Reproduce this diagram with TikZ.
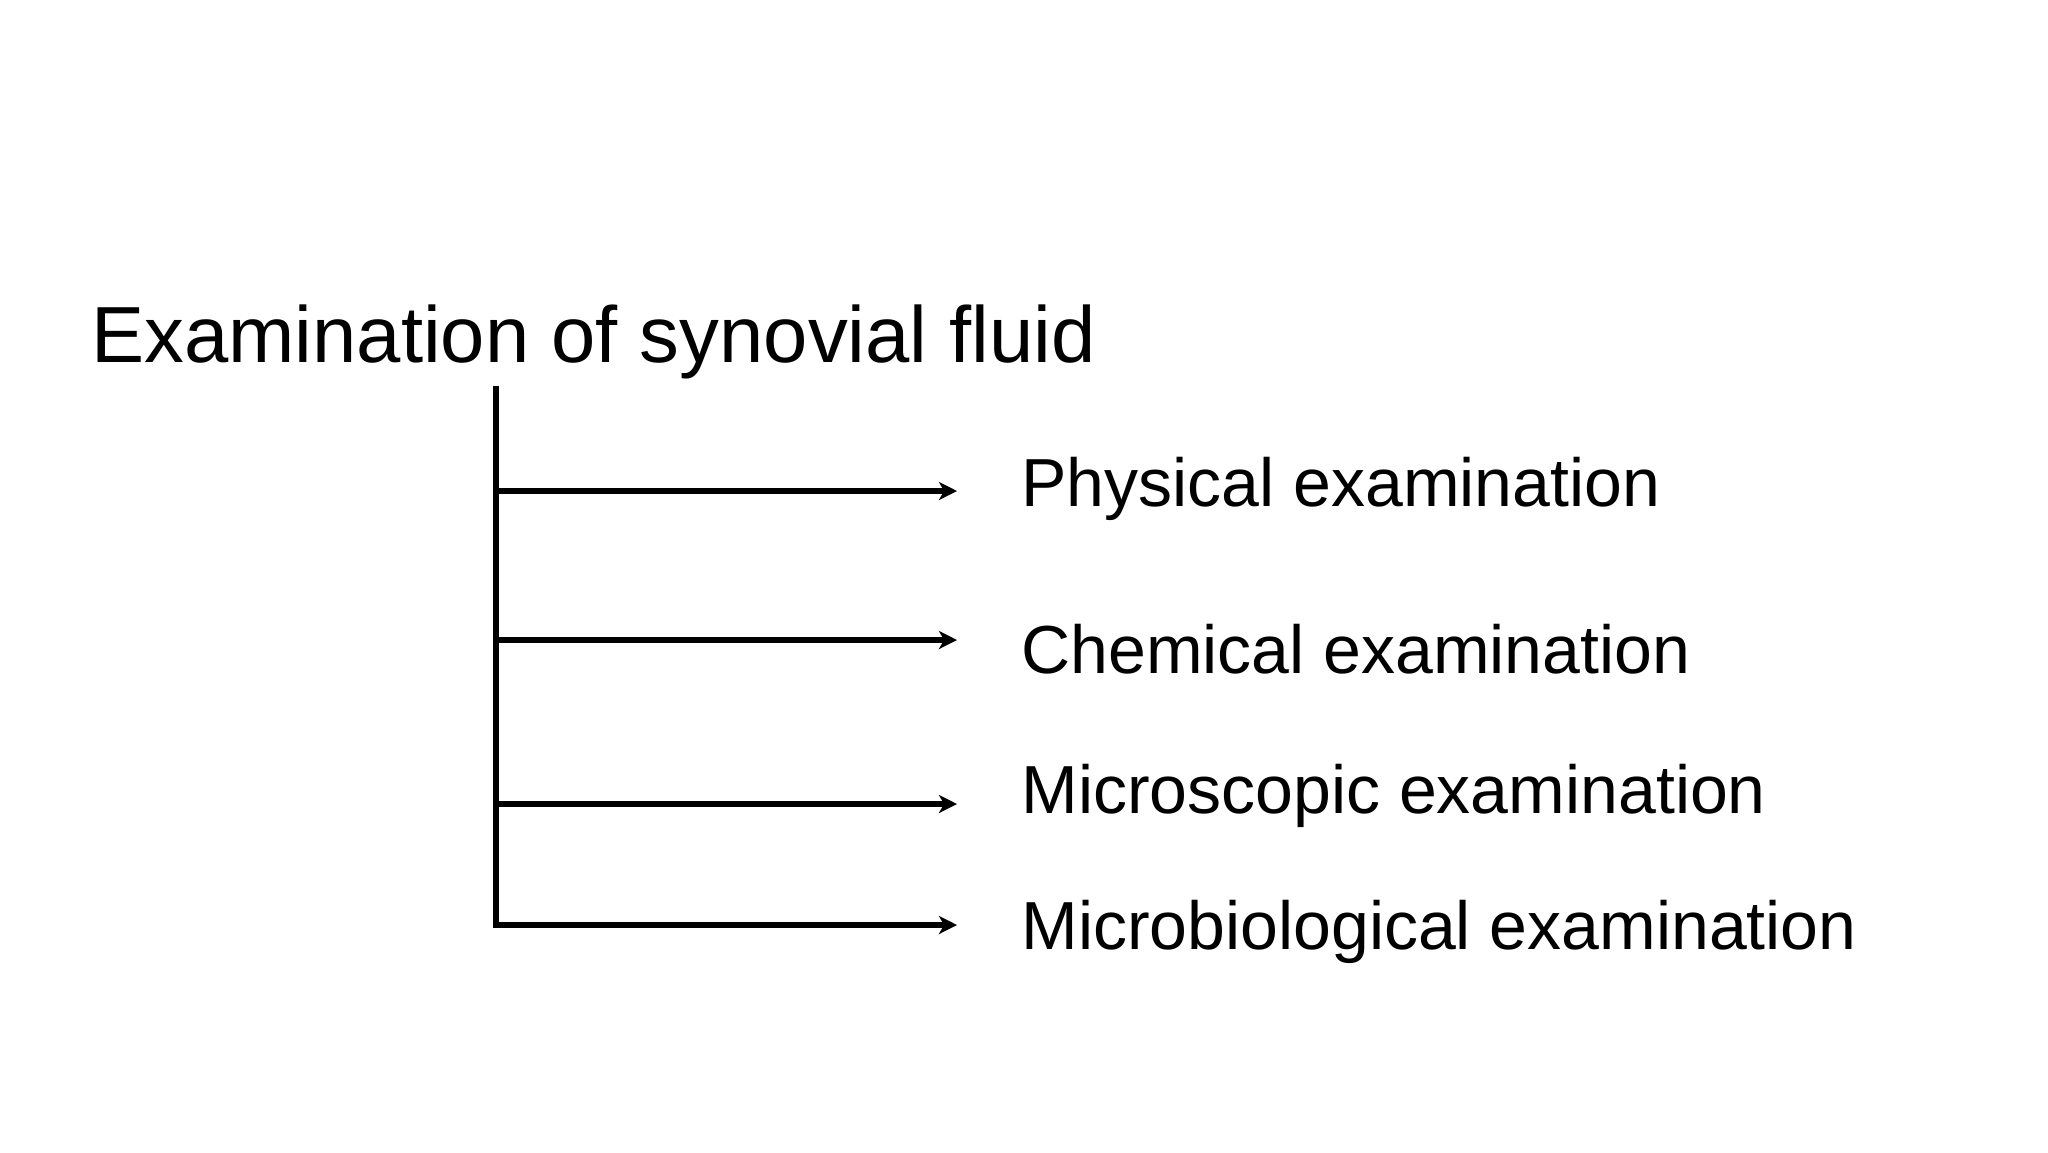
\documentclass[tikz,border=0pt]{standalone}
\usepackage{fontspec}
\setmainfont{Liberation Sans}
\usetikzlibrary{arrows.meta}
\begin{document}
\begin{tikzpicture}[x=0.5pt,y=-0.5pt,
  stem/.style={line width=3pt,line cap=rect},
  branch/.style={line width=3pt,-{Stealth[length=9pt,width=9pt,inset=2.5pt]}},
  titletext/.style={inner sep=0pt,anchor=base west,font=\fontsize{39.8}{48}\selectfont},
  labeltext/.style={inner sep=0pt,anchor=base west,font=\fontsize{34}{40}\selectfont}]
\useasboundingbox[fill=white] (0,0) rectangle (2048,1152);
\node[titletext] (title) at (91,362) {Examination of synovial fluid};
\coordinate (top) at (496,389);
\coordinate (b1) at (496,491);
\coordinate (b2) at (496,640);
\coordinate (b3) at (496,804);
\coordinate (b4) at (496,925);
\coordinate (e1) at (957,491);
\coordinate (e2) at (957,640);
\coordinate (e3) at (957,804);
\coordinate (e4) at (957,925);
\node[labeltext] (l1) at (1021,506) {Physical examination};
\node[labeltext] (l2) at (1021,673) {Chemical examination};
\node[labeltext] (l3) at (1021,813) {Microscopic examination};
\node[labeltext] (l4) at (1021,949) {Microbiological examination};
\draw[stem] (top) -- (b4);
\draw[branch] (b1) -- (e1);
\draw[branch] (b2) -- (e2);
\draw[branch] (b3) -- (e3);
\draw[branch] (b4) -- (e4);
\end{tikzpicture}
\end{document}
